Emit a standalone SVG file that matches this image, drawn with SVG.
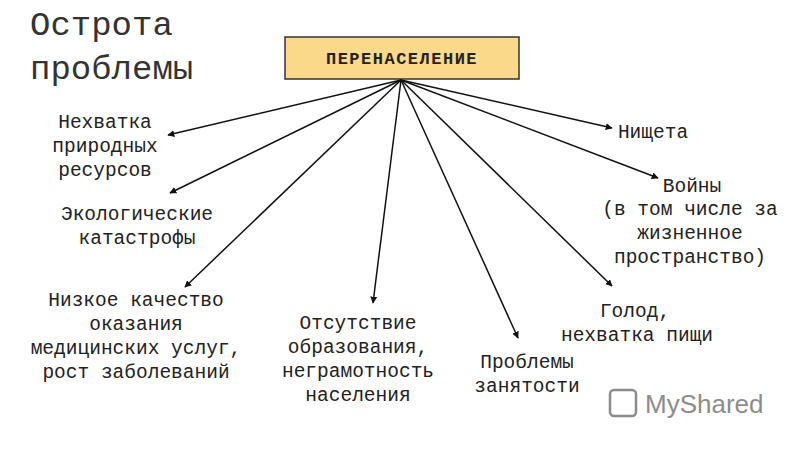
<svg xmlns="http://www.w3.org/2000/svg" width="800" height="450" viewBox="0 0 800 450">
<style>
.t{font-family:"Liberation Mono","DejaVu Sans Mono",monospace;font-size:19.5px;fill:#222;text-anchor:middle}
.h{font-family:"Liberation Mono",monospace;font-size:34px;fill:#333}
.c line{stroke:#111;stroke-width:1.5;marker-end:url(#a)}
</style>
<defs><marker id="a" viewBox="0 0 10 10" refX="9" refY="5" markerWidth="7" markerHeight="7" orient="auto" markerUnits="userSpaceOnUse"><path d="M0,0L10,5L0,10z" fill="#111"/></marker></defs>
<rect width="800" height="450" fill="#fff"/>
<g id="title"><text class="h" x="30" y="35">Острота</text><text class="h" x="30" y="79">проблемы</text></g>
<g id="root"><rect x="285" y="37" width="234" height="42" fill="#fbd98a" stroke="#333" stroke-width="1.5"/><text x="402" y="64" font-family="'Liberation Mono',monospace" font-weight="bold" font-size="17" letter-spacing="1.5" text-anchor="middle" fill="#222">ПЕРЕНАСЕЛЕНИЕ</text></g>
<g class="c" id="connectors">
<line x1="401" y1="80" x2="168" y2="135"/>
<line x1="401" y1="80" x2="170" y2="193"/>
<line x1="401" y1="80" x2="185" y2="287"/>
<line x1="401" y1="80" x2="373" y2="303"/>
<line x1="401" y1="80" x2="518" y2="338"/>
<line x1="401" y1="80" x2="612" y2="286"/>
<line x1="401" y1="80" x2="658" y2="178"/>
<line x1="401" y1="80" x2="612" y2="128"/>
</g>
<g id="n1"><text class="t" x="105" y="128">Нехватка</text><text class="t" x="105" y="152">природных</text><text class="t" x="105" y="176">ресурсов</text></g>
<g id="n2"><text class="t" x="137" y="220">Экологические</text><text class="t" x="137" y="244">катастрофы</text></g>
<g id="n3"><text class="t" x="136" y="306">Низкое качество</text><text class="t" x="136" y="330">оказания</text><text class="t" x="136" y="354">медицинских услуг,</text><text class="t" x="136" y="378">рост заболеваний</text></g>
<g id="n4"><text class="t" x="358" y="329">Отсутствие</text><text class="t" x="358" y="353">образования,</text><text class="t" x="358" y="377">неграмотность</text><text class="t" x="358" y="401">населения</text></g>
<g id="n5"><text class="t" x="527" y="368">Проблемы</text><text class="t" x="527" y="392">занятости</text></g>
<g id="n6"><text class="t" x="635" y="317">Голод,</text><text class="t" x="637" y="341">нехватка пищи</text></g>
<g id="n7"><text class="t" x="653" y="138">Нищета</text></g>
<g id="n8"><text class="t" x="692" y="192">Войны</text><text class="t" x="690" y="215">(в том числе за</text><text class="t" x="690" y="239">жизненное</text><text class="t" x="690" y="263">пространство)</text></g>
<g id="wm" opacity="0.75"><rect x="610" y="390" width="26" height="26" rx="4" fill="none" stroke="#666" stroke-width="2.5"/><text x="645" y="413" font-family="Liberation Sans,sans-serif" font-size="26" fill="#666">MyShared</text></g>
</svg>
